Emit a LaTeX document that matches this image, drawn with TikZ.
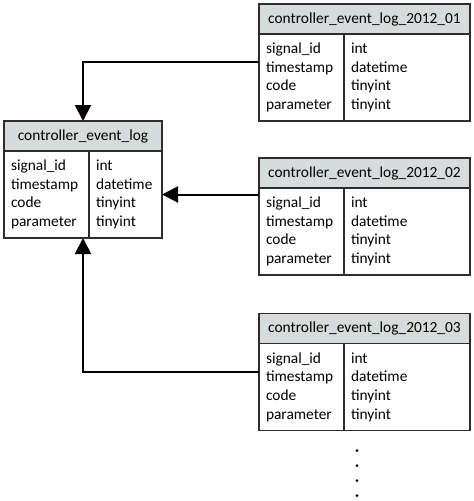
\documentclass[tikz,border=0pt]{standalone}
\usepackage{fontspec}
\setmainfont{Carlito}
\usetikzlibrary{shapes,arrows,arrows.meta,positioning}
\definecolor{headgray}{RGB}{214,220,219}
\definecolor{rulegray}{RGB}{45,45,45}
\tikzstyle{head} = [rectangle, draw=rulegray, fill=headgray, line width=1.3pt,
	minimum height=30pt, inner sep=0pt, outer sep=0pt, text centered]
\tikzstyle{cell} = [rectangle, draw=rulegray, line width=1.3pt, minimum height=87pt,
	inner xsep=7pt, inner ysep=0pt, outer sep=0pt, align=left]
\tikzstyle{line} = [draw, line width=2pt, -{Triangle[length=16pt,width=16pt]}]
\newcommand{\fieldnames}{signal\_id\\timestamp\\code\\parameter}
\newcommand{\fieldtypes}{int\\datetime\\tinyint\\tinyint}

\begin{document}
\begin{tikzpicture}[x=1pt, y=-1pt, font=\fontsize{15.4}{18.7}\selectfont]
	\useasboundingbox (0,0) rectangle (474,501);
	% Place nodes
	\node [head, minimum width=158pt] (main) at (83,136) {controller\_event\_log};
	\node [cell, text width=71pt, anchor=north west] (mainnames) at (main.south west) {\fieldnames};
	\node [cell, text width=59pt, right=0pt of mainnames] (maintypes) {\fieldtypes};
	\node [head, minimum width=211pt] (jan) at (364.5,19) {controller\_event\_log\_2012\_01};
	\node [cell, text width=71pt, anchor=north west] (jannames) at (jan.south west) {\fieldnames};
	\node [cell, text width=112pt, right=0pt of jannames] (jantypes) {\fieldtypes};
	\node [head, minimum width=211pt] (feb) at (364.5,173) {controller\_event\_log\_2012\_02};
	\node [cell, text width=71pt, anchor=north west] (febnames) at (feb.south west) {\fieldnames};
	\node [cell, text width=112pt, right=0pt of febnames] (febtypes) {\fieldtypes};
	\node [head, minimum width=211pt] (mar) at (364.5,328.5) {controller\_event\_log\_2012\_03};
	\node [cell, text width=71pt, anchor=north west] (marnames) at (mar.south west) {\fieldnames};
	\node [cell, text width=112pt, right=0pt of marnames] (martypes) {\fieldtypes};
	% Draw edges
	\path [line] ([yshift=15.5pt]jannames.west) -| (main.north);
	\path [line] (febnames.west |- maintypes.east) -- (maintypes.east);
	\path [line] ([yshift=15.5pt]marnames.west) -| (main.north |- mainnames.south);
	% more tables follow
	\foreach \d in {20,35,50,65}
		\fill ([xshift=13pt,yshift=-\d pt]martypes.south west) circle (1.5pt);
\end{tikzpicture}
\end{document}
